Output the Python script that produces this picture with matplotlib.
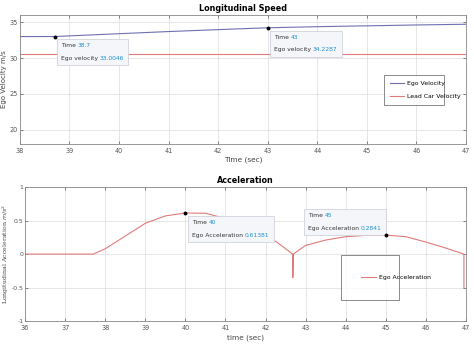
import numpy as np
import matplotlib
matplotlib.use("Agg")
import matplotlib.pyplot as plt
from matplotlib.offsetbox import TextArea, HPacker, VPacker, AnnotationBbox

# Longitudinal speed data
t_ego = [38.0, 38.7, 40.0, 41.0, 42.0, 43.0, 44.0, 45.0, 46.0, 47.0]
v_ego = [33.0, 33.0046, 33.4, 33.7, 33.97, 34.2287, 34.38, 34.5, 34.62, 34.72]
t_lead = [38.0, 47.0]
v_lead = [30.55, 30.55]

# Acceleration data
t_acc = [36.0, 37.7, 38.0, 38.5, 39.0, 39.5, 40.0, 40.5, 41.0, 41.5, 41.9, 42.3, 42.68, 42.68, 42.69,
         43.0, 43.5, 44.0, 44.5, 45.0, 45.5, 46.0, 46.5, 46.95, 46.95]
a_ego = [0.0, 0.0, 0.08, 0.27, 0.46, 0.57, 0.61381, 0.61, 0.53, 0.42, 0.33, 0.17, 0.0, -0.35, 0.0,
         0.13, 0.21, 0.26, 0.28, 0.2841, 0.26, 0.18, 0.09, 0.0, -0.5]

# data tips: (x, y, name, time value, y value, box corner)
tips_top = [(38.7, 33.0046, "Ego velocity", "38.7", "33.0046", (0, 1)),
            (43.0, 34.2287, "Ego velocity", "43", "34.2287", (0, 1))]
tips_bot = [(40.0, 0.61381, "Ego Acceleration", "40", "0.61381", (0, 1)),
            (45.0, 0.2841, "Ego Acceleration", "45", "0.2841", (1, 0))]

blue_val = "#1f8fd0"
fs = 4.3


def add_tip(ax, x, y, name, v1, v2, corner):
    ax.plot([x], [y], "o", color="k", ms=1.8, zorder=8)
    p1 = {"fontsize": fs, "color": "#333333"}
    p2 = {"fontsize": fs, "color": blue_val}
    row1 = HPacker(children=[TextArea("Time", textprops=p1), TextArea(v1, textprops=p2)],
                   sep=1.5, pad=0, align="baseline")
    row2 = HPacker(children=[TextArea(name, textprops=p1), TextArea(v2, textprops=p2)],
                   sep=1.5, pad=0, align="baseline")
    box = VPacker(children=[row1, row2], sep=5.5, pad=0, align="left")
    off = (4.5, -5) if corner == (0, 1) else (-3, 3)
    ab = AnnotationBbox(box, (x, y), xybox=off, boxcoords="offset points",
                        box_alignment=corner, pad=0.7, frameon=True, zorder=7,
                        bboxprops=dict(boxstyle="square", fc="#f4f6fa", ec="#c8ccd8", lw=0.5))
    ax.add_artist(ab)


def style(ax):
    ax.grid(True, color="#dcdcdc", lw=0.5)
    ax.tick_params(direction="in", top=True, right=True, labelsize=4.7, length=2.5,
                   width=0.5, colors="#555555", pad=1.5)
    ax.tick_params(axis="x", pad=3)
    for s in ax.spines.values():
        s.set_color("#888888")
        s.set_linewidth(0.6)
    ax.set_axisbelow(True)


fig = plt.figure(figsize=(4.74, 3.51), dpi=100)
fig.patch.set_facecolor("white")

ax1 = fig.add_axes([0.042, 0.590, 0.941, 0.367])
ax1.plot(t_ego, v_ego, color="#7070b0", lw=0.8, label="Ego Velocity")
ax1.plot(t_lead, v_lead, color="#e07a7a", lw=0.8, label="Lead Car Velocity")
ax1.set_xlim(38, 47)
ax1.set_ylim(18, 36)
ax1.set_xticks(range(38, 48))
ax1.set_yticks([20, 25, 30, 35])
style(ax1)
ax1.set_title("Longitudinal Speed", fontsize=5.8, fontweight="bold", pad=3)
ax1.set_xlabel("Time (sec)", fontsize=5.3, color="#444444", labelpad=2)
fig.text(1 / 474, 0.590 + 0.367 / 2, "Ego Velocity m/s", rotation=90, ha="left", va="center",
         fontsize=5, color="#444444")
leg1 = ax1.legend(loc="lower left", bbox_to_anchor=(0.81, 0.28, 0.147, 0.24), mode="expand",
                  fontsize=4.4, frameon=True, fancybox=False, edgecolor="#555555",
                  handlelength=2.4, borderpad=0.9, labelspacing=1.3, handletextpad=0.5)
leg1.get_frame().set_linewidth(0.6)
for x, y, name, v1, v2, corner in tips_top:
    add_tip(ax1, x, y, name, v1, v2, corner)

ax2 = fig.add_axes([0.053, 0.085, 0.930, 0.382])
ax2.plot(t_acc, a_ego, color="#e07a7a", lw=0.8, label="Ego Acceleration")
ax2.set_xlim(36, 47)
ax2.set_ylim(-1, 1)
ax2.set_xticks(range(36, 48))
ax2.set_yticks([-1, -0.5, 0, 0.5, 1])
ax2.set_yticklabels(["-1", "-0.5", "0", "0.5", "1"])
style(ax2)
ax2.tick_params(axis="y", labelsize=4.4, pad=1.2)
ax2.set_title("Acceleration", fontsize=5.8, fontweight="bold", pad=3)
ax2.set_xlabel("time (sec)", fontsize=5.3, color="#444444", labelpad=2)
fig.text(0.3 / 474, 0.085 + 0.382 / 2, "Longitudinal Acceleration $m/s^2$", rotation=90,
         ha="left", va="center", fontsize=4.5, color="#444444", family="DejaVu Serif")
leg2 = ax2.legend(loc="lower left", bbox_to_anchor=(0.71, 0.134, 0.145, 0.35), mode="expand",
                  fontsize=4.4, frameon=True, fancybox=False, edgecolor="#555555",
                  handlelength=2.4, borderpad=3.3, handletextpad=0.5)
leg2.get_frame().set_linewidth(0.6)
for x, y, name, v1, v2, corner in tips_bot:
    add_tip(ax2, x, y, name, v1, v2, corner)

fig.savefig("out.png", dpi=100, facecolor="white")
